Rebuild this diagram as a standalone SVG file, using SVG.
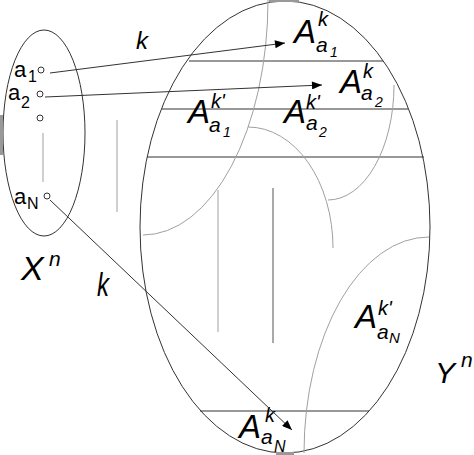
<svg xmlns="http://www.w3.org/2000/svg" width="474" height="455" viewBox="0 0 474 455">
<defs>
<style>
.dk{fill:none;stroke:#333;stroke-width:1}
.gr{fill:none;stroke:#a0a0a0;stroke-width:1}
.t{font-family:"Liberation Sans",Arial,sans-serif;fill:#000}
.i{font-style:italic}
</style>
<marker id="ah" viewBox="0 0 10 8" refX="10" refY="4" markerWidth="11" markerHeight="8" markerUnits="userSpaceOnUse" orient="auto">
<path d="M0,0 L10,4 L0,8 Z" fill="#000"/>
</marker>
</defs>
<rect width="474" height="455" fill="#fff"/>
<g id="set-X">
<ellipse cx="44" cy="133" rx="41" ry="103" class="dk"/>
<rect x="0" y="115" width="3" height="40" fill="#999"/>
<circle cx="41" cy="70" r="3" class="dk"/>
<circle cx="40" cy="94" r="3" class="dk"/>
<circle cx="40" cy="118" r="3" class="dk"/>
<circle cx="47" cy="196" r="3" class="dk"/>
<line x1="43" y1="133" x2="43" y2="182" class="gr"/>
<text class="t" x="14" y="77" font-size="22">a</text><text class="t" x="28" y="82" font-size="16">1</text>
<text class="t" x="8" y="100" font-size="22">a</text><text class="t" x="21" y="108" font-size="16">2</text>
<text class="t" x="14" y="204" font-size="22">a</text><text class="t" x="27" y="209" font-size="16">N</text>
<text class="t i" x="21" y="280" font-size="34">X</text><text class="t i" x="49" y="266" font-size="21">n</text>
</g>
<g id="set-Y">
<ellipse cx="285" cy="227" rx="145" ry="226" class="dk"/>
<rect x="269" y="0" width="30" height="2" fill="#999"/>
<rect x="276" y="452" width="18" height="3" fill="#999"/>
<line x1="189" y1="61" x2="383" y2="61" class="dk"/>
<line x1="162" y1="109" x2="408" y2="109" class="dk"/>
<line x1="147" y1="157" x2="424" y2="157" class="dk"/>
<line x1="200" y1="411" x2="369" y2="411" class="dk"/>
<path d="M268,0 A125,235 0 0 1 143,235" class="gr"/>
<path d="M248,127 A85,121 0 0 1 333,248" class="gr"/>
<path d="M394,85 A66,115 0 0 1 328,200" class="gr"/>
<path d="M429,237 A125,216 0 0 0 304,453" class="gr"/>
<line x1="117" y1="120" x2="117" y2="212" class="gr"/>
<line x1="218" y1="190" x2="218" y2="332" class="gr"/>
<line x1="273" y1="188" x2="273" y2="343" stroke="#555" stroke-width="1"/>
<text class="t i" x="435" y="383" font-size="30">Y</text><text class="t i" x="461" y="367" font-size="21">n</text>
</g>
<g id="A-a1-k">
<text class="t i" x="294" y="43" font-size="33">A</text>
<text class="t i" x="318" y="26" font-size="20">k</text>
<text class="t i" x="316" y="52" font-size="21">a</text>
<text class="t i" x="330" y="57" font-size="14">1</text>
</g>
<g id="A-a2-k">
<text class="t i" x="340" y="93" font-size="33">A</text>
<text class="t i" x="363" y="78" font-size="20">k</text>
<text class="t i" x="361" y="100" font-size="21">a</text>
<text class="t i" x="375" y="107" font-size="14">2</text>
</g>
<g id="A-a1-kp">
<text class="t i" x="188" y="123" font-size="33">A</text>
<text class="t i" x="211" y="108" font-size="20">k'</text>
<text class="t i" x="209" y="132" font-size="21">a</text>
<text class="t i" x="223" y="137" font-size="14">1</text>
</g>
<g id="A-a2-kp">
<text class="t i" x="284" y="123" font-size="33">A</text>
<text class="t i" x="306" y="109" font-size="20">k'</text>
<text class="t i" x="306" y="130" font-size="21">a</text>
<text class="t i" x="319" y="137" font-size="14">2</text>
</g>
<g id="A-aN-kp">
<text class="t i" x="355" y="328" font-size="33">A</text>
<text class="t i" x="378" y="315" font-size="20">k'</text>
<text class="t i" x="377" y="339" font-size="21">a</text>
<text class="t i" x="389" y="343" font-size="15">N</text>
</g>
<g id="A-aN-k">
<text class="t i" x="239" y="438" font-size="33">A</text>
<text class="t i" x="265" y="422" font-size="20">k</text>
<text class="t i" x="261" y="444" font-size="21">a</text>
<text class="t i" x="274" y="452" font-size="16">N</text>
</g>
<g id="connectors">
<line x1="50" y1="73" x2="285" y2="43" class="dk" marker-end="url(#ah)"/>
<line x1="45" y1="97" x2="322" y2="85" class="dk" marker-end="url(#ah)"/>
<line x1="50" y1="200" x2="292" y2="430" class="dk" marker-end="url(#ah)"/>
<text class="t i" x="136" y="49" font-size="24">k</text>
<text class="t i" font-size="24" transform="translate(97,296) scale(1,1.4)">k</text>
</g>
</svg>
